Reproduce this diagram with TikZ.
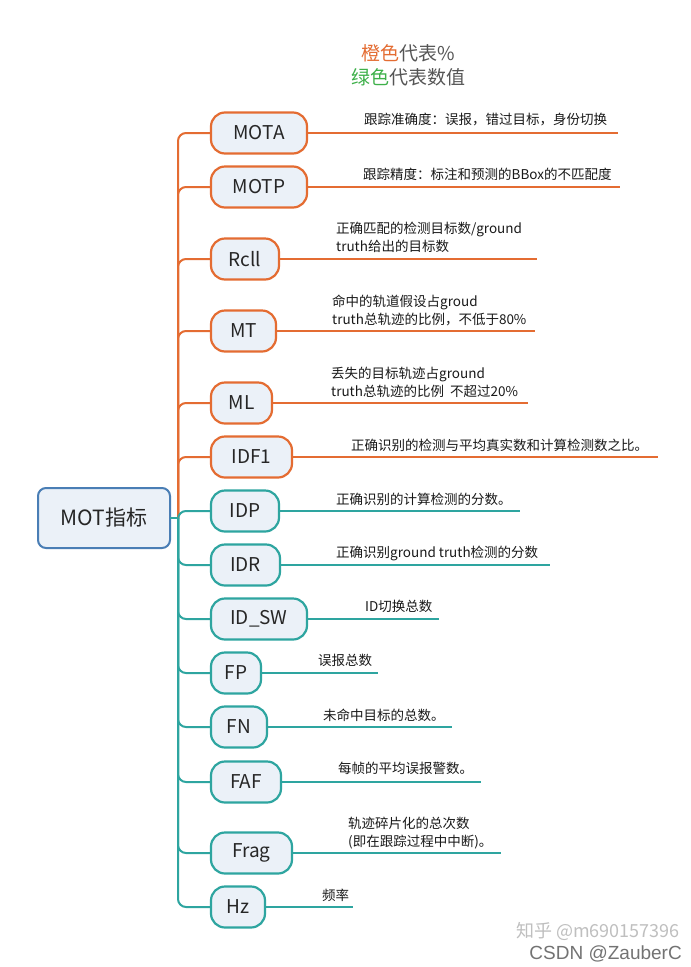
\documentclass[tikz,border=0pt]{standalone}
\usepackage{fontspec}
\setmainfont{Noto Sans CJK SC}
\newfontfamily\wmfont{Liberation Sans}
\definecolor{org}{HTML}{E46C32}
\definecolor{tealc}{HTML}{2EA5A0}
\definecolor{rootb}{HTML}{4A7EB5}
\definecolor{nfill}{HTML}{EBF1F8}
\definecolor{lgreen}{HTML}{3DB049}
\definecolor{lgray}{HTML}{555555}
\tikzset{
  leaf/.style={draw, line width=2.2pt, fill=nfill, rounded corners=14pt, minimum height=41pt,
    inner sep=0pt, outer sep=0pt, anchor=west, font=\fontsize{19}{22}\selectfont, text=black!85},
  oleaf/.style={leaf, draw=org},
  tleaf/.style={leaf, draw=tealc},
  desc/.style={anchor=west, align=left, font=\fontsize{13.5}{18}\selectfont, inner sep=0pt, text=black!90},
  oline/.style={draw=org, line width=2pt},
  tline/.style={draw=tealc, line width=2pt},
  wm/.style={anchor=east, inner sep=0pt}
}
\begin{document}
\begin{tikzpicture}[x=1pt, y=-1pt]
\useasboundingbox[fill=white] (0,0) rectangle (691,967);

% legend
\node[font=\fontsize{19}{22}\selectfont, text=lgray] (leg1) at (408,53) {\textcolor{org}{橙色}代表\%};
\node[font=\fontsize{19}{22}\selectfont, text=lgray] (leg2) at (408,77) {\textcolor{lgreen}{绿色}代表数值};

% root
\node[draw=rootb, line width=2pt, fill=nfill, rounded corners=8pt, minimum width=132pt, minimum height=60pt,
  inner sep=0pt, outer sep=0pt, font=\fontsize{21}{24}\selectfont, text=black!85] (root) at (104,518) {MOT指标};
\coordinate (j) at (178,518);

% branch nodes
\node[oleaf, minimum width=96pt] (MOTA) at (211,133) {MOTA};
\node[oleaf, minimum width=96pt] (MOTP) at (211,187) {MOTP};
\node[oleaf, minimum width=68pt] (Rcll) at (211,259) {Rcll};
\node[oleaf, minimum width=65pt] (MT) at (211,331) {MT};
\node[oleaf, minimum width=61pt] (ML) at (211,403) {ML};
\node[oleaf, minimum width=81pt] (IDF1) at (211,457) {IDF1};
\node[tleaf, minimum width=68pt] (IDP) at (211,511) {IDP};
\node[tleaf, minimum width=69pt] (IDR) at (211,565) {IDR};
\node[tleaf, minimum width=96pt] (IDSW) at (211,619) {ID\_SW};
\node[tleaf, minimum width=50pt] (FP) at (211,673) {FP};
\node[tleaf, minimum width=56pt] (FN) at (211,727) {FN};
\node[tleaf, minimum width=70pt] (FAF) at (211,782) {FAF};
\node[tleaf, minimum width=81pt] (Frag) at (211,853) {Frag};
\node[tleaf, minimum width=54pt] (Hz) at (211,907) {Hz};

% trunk connectors
\draw[tline] (root.east) -- (j);
\foreach \n in {MOTA,MOTP,Rcll,MT,ML,IDF1}
  \draw[oline, rounded corners=8pt] (j) |- (\n.west);
\foreach \n in {IDP,IDR,IDSW,FP,FN,FAF,Frag,Hz}
  \draw[tline, rounded corners=8pt] (j) |- (\n.west);

% description line ends
\coordinate (eMOTA) at (618,133);
\coordinate (eMOTP) at (620,187);
\coordinate (eRcll) at (537,259);
\coordinate (eMT) at (535,331);
\coordinate (eML) at (528,403);
\coordinate (eIDF1) at (658,457);
\coordinate (eIDP) at (520,511);
\coordinate (eIDR) at (550,565);
\coordinate (eIDSW) at (439,619);
\coordinate (eFP) at (378,673);
\coordinate (eFN) at (452,727);
\coordinate (eFAF) at (481,782);
\coordinate (eFrag) at (501,853);
\coordinate (eHz) at (353,907);
\foreach \n in {MOTA,MOTP,Rcll,MT,ML,IDF1}
  \draw[oline] (\n.east) -- (e\n);
\foreach \n in {IDP,IDR,IDSW,FP,FN,FAF,Frag,Hz}
  \draw[tline] (\n.east) -- (e\n);

% descriptions
\node[desc] (dMOTA) at (364,120) {跟踪准确度：误报，错过目标，身份切换};
\node[desc] (dMOTP) at (363,174) {跟踪精度：标注和预测的BBox的不匹配度};
\node[desc] (dRcll) at (336,237) {正确匹配的检测目标数/ground\\truth给出的目标数};
\node[desc] (dMT) at (332,310) {命中的轨道假设占groud\\truth总轨迹的比例，不低于80\%};
\node[desc] (dML) at (331,382) {丢失的目标轨迹占ground\\truth总轨迹的比例~~不超过20\%};
\node[desc] (dIDF1) at (351,445) {正确识别的检测与平均真实数和计算检测数之比。};
\node[desc] (dIDP) at (336,499) {正确识别的计算检测的分数。};
\node[desc] (dIDR) at (336,553) {正确识别ground truth检测的分数};
\node[desc] (dIDSW) at (365,606) {ID切换总数};
\node[desc] (dFP) at (318,660) {误报总数};
\node[desc] (dFN) at (323,715) {未命中目标的总数。};
\node[desc] (dFAF) at (338,768) {每帧的平均误报警数。};
\node[desc] (dFrag) at (348,833) {轨迹碎片化的总次数\\(即在跟踪过程中中断)。};
\node[desc] (dHz) at (322,895) {频率};

% watermarks
\node[wm, font=\fontsize{18}{20}\selectfont, text=black!25] (wm1) at (680,931) {知乎 @m690157396};
\node[wm, font=\wmfont\fontsize{19}{21}\selectfont, text=black!55] (wm2) at (682,954) {CSDN @ZauberC};
\end{tikzpicture}
\end{document}
